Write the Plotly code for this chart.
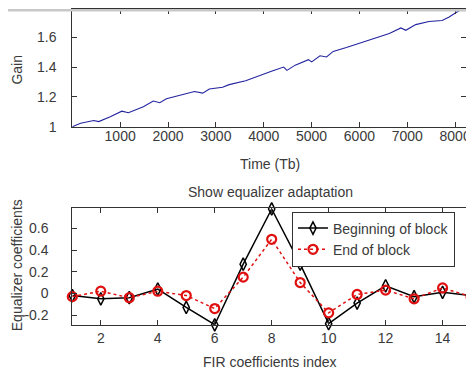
import plotly.graph_objects as go

# ---- data: top panel (gain vs time) ----
time_tb = [0, 172, 449, 552, 793, 1035, 1173, 1484, 1691, 1829, 1967, 2243, 2553,
           2726, 2864, 3140, 3278, 3623, 3969, 4176, 4417, 4486, 4658, 4934, 5003,
           5176, 5314, 5452, 5728, 6073, 6418, 6625, 6867, 6970, 7177, 7453, 7729,
           7867, 8006, 8143, 8230]
gain = [1.0, 1.023, 1.041, 1.034, 1.067, 1.104, 1.093, 1.133, 1.172, 1.161, 1.187,
        1.209, 1.236, 1.225, 1.253, 1.264, 1.282, 1.308, 1.352, 1.374, 1.400, 1.378,
        1.413, 1.450, 1.435, 1.476, 1.468, 1.505, 1.531, 1.566, 1.604, 1.625, 1.663,
        1.647, 1.685, 1.706, 1.713, 1.735, 1.763, 1.79, 1.80]

# ---- data: bottom panel (equalizer coefficients) ----
fir_index = list(range(1, 16))
begin_block = [-0.02, -0.05, -0.04, 0.04, -0.13, -0.29, 0.27, 0.78, 0.27, -0.28,
               -0.09, 0.07, -0.03, 0.01, -0.02]
end_block = [-0.03, 0.02, -0.04, 0.02, -0.02, -0.14, 0.15, 0.50, 0.10, -0.18,
             -0.01, 0.03, -0.05, 0.05, -0.03]

top_xticks = [1000, 2000, 3000, 4000, 5000, 6000, 7000, 8000]
top_yticks = [1, 1.2, 1.4, 1.6]
bot_xticks = [2, 4, 6, 8, 10, 12, 14]
bot_yticks = [-0.2, 0, 0.2, 0.4, 0.6]

W, H = 474, 370
FONT = "Liberation Sans, Arial, sans-serif"
TXT = "#3a3a3a"
AX = "#333333"

fig = go.Figure()
fig.add_trace(go.Scatter(x=time_tb, y=gain, mode="lines", xaxis="x", yaxis="y",
                         line=dict(color="#2323a0", width=1.1), showlegend=False))
fig.add_trace(go.Scatter(x=fir_index, y=begin_block, mode="lines+markers",
                         xaxis="x2", yaxis="y2", name="Beginning of block",
                         cliponaxis=False,
                         line=dict(color="black", width=1.5),
                         marker=dict(symbol="diamond-tall-open", size=9, color="black",
                                     line=dict(width=1.5))))
fig.add_trace(go.Scatter(x=fir_index, y=end_block, mode="lines+markers",
                         xaxis="x2", yaxis="y2", name="End of block",
                         cliponaxis=False,
                         line=dict(color="#e01010", width=1.5, dash="dot"),
                         marker=dict(symbol="circle-open", size=9, color="#e01010",
                                     line=dict(width=2.2))))

def px_x(p):
    return p / W

def px_y(p):
    return (H - p) / H

def axis_common(standoff=0):
    return dict(showline=True, linecolor=AX, linewidth=1, mirror="ticks",
                ticks="inside", ticklen=5, tickcolor=AX, showgrid=False,
                zeroline=False, ticklabelstandoff=standoff,
                tickfont=dict(family=FONT, size=14, color=TXT))

fig.update_layout(
    width=W, height=H,
    margin=dict(l=0, r=0, t=0, b=0),
    paper_bgcolor="white", plot_bgcolor="white",
    xaxis=dict(domain=[px_x(65), px_x(463)], range=[0, 8230], tickvals=top_xticks,
               anchor="y", **axis_common(-4)),
    yaxis=dict(domain=[px_y(121), px_y(0)], range=[0.995, 1.79], tickvals=top_yticks,
               ticktext=["1", "1.2", "1.4", "1.6"], anchor="x", **axis_common(12)),
    xaxis2=dict(domain=[px_x(65), px_x(468)], range=[1, 15], tickvals=bot_xticks,
                anchor="y2", **axis_common(0)),
    yaxis2=dict(domain=[px_y(323.3), px_y(203.3)], range=[-0.295, 0.79],
                tickvals=bot_yticks, ticktext=["-0.2", "0", "0.2", "0.4", "0.6"],
                anchor="x2", **axis_common(20)),
    legend=dict(x=px_x(287), y=px_y(207), xanchor="left", yanchor="top",
                bgcolor="white", bordercolor=AX, borderwidth=1,
                font=dict(family=FONT, size=14, color=TXT), tracegroupgap=0),
    shapes=[dict(type="rect", xref="paper", yref="paper", x0=0, x1=1,
                 y0=px_y(2.5), y1=1, fillcolor="#c8c8c8", line=dict(width=0),
                 layer="above")],
)

ann = [
    dict(text="Gain", x=px_x(9), y=px_y(62), textangle=-90),
    dict(text="Time (Tb)", x=px_x(265), y=px_y(158)),
    dict(text="Show equalizer adaptation", x=px_x(265), y=px_y(187)),
    dict(text="Equalizer coefficients", x=px_x(9), y=px_y(262), textangle=-90),
    dict(text="FIR coefficients index", x=px_x(265), y=px_y(361)),
]
for a in ann:
    fig.add_annotation(xref="paper", yref="paper", showarrow=False,
                       xanchor="center", yanchor="middle",
                       font=dict(family=FONT, size=14, color=TXT), **a)

fig.write_html("out.html")
